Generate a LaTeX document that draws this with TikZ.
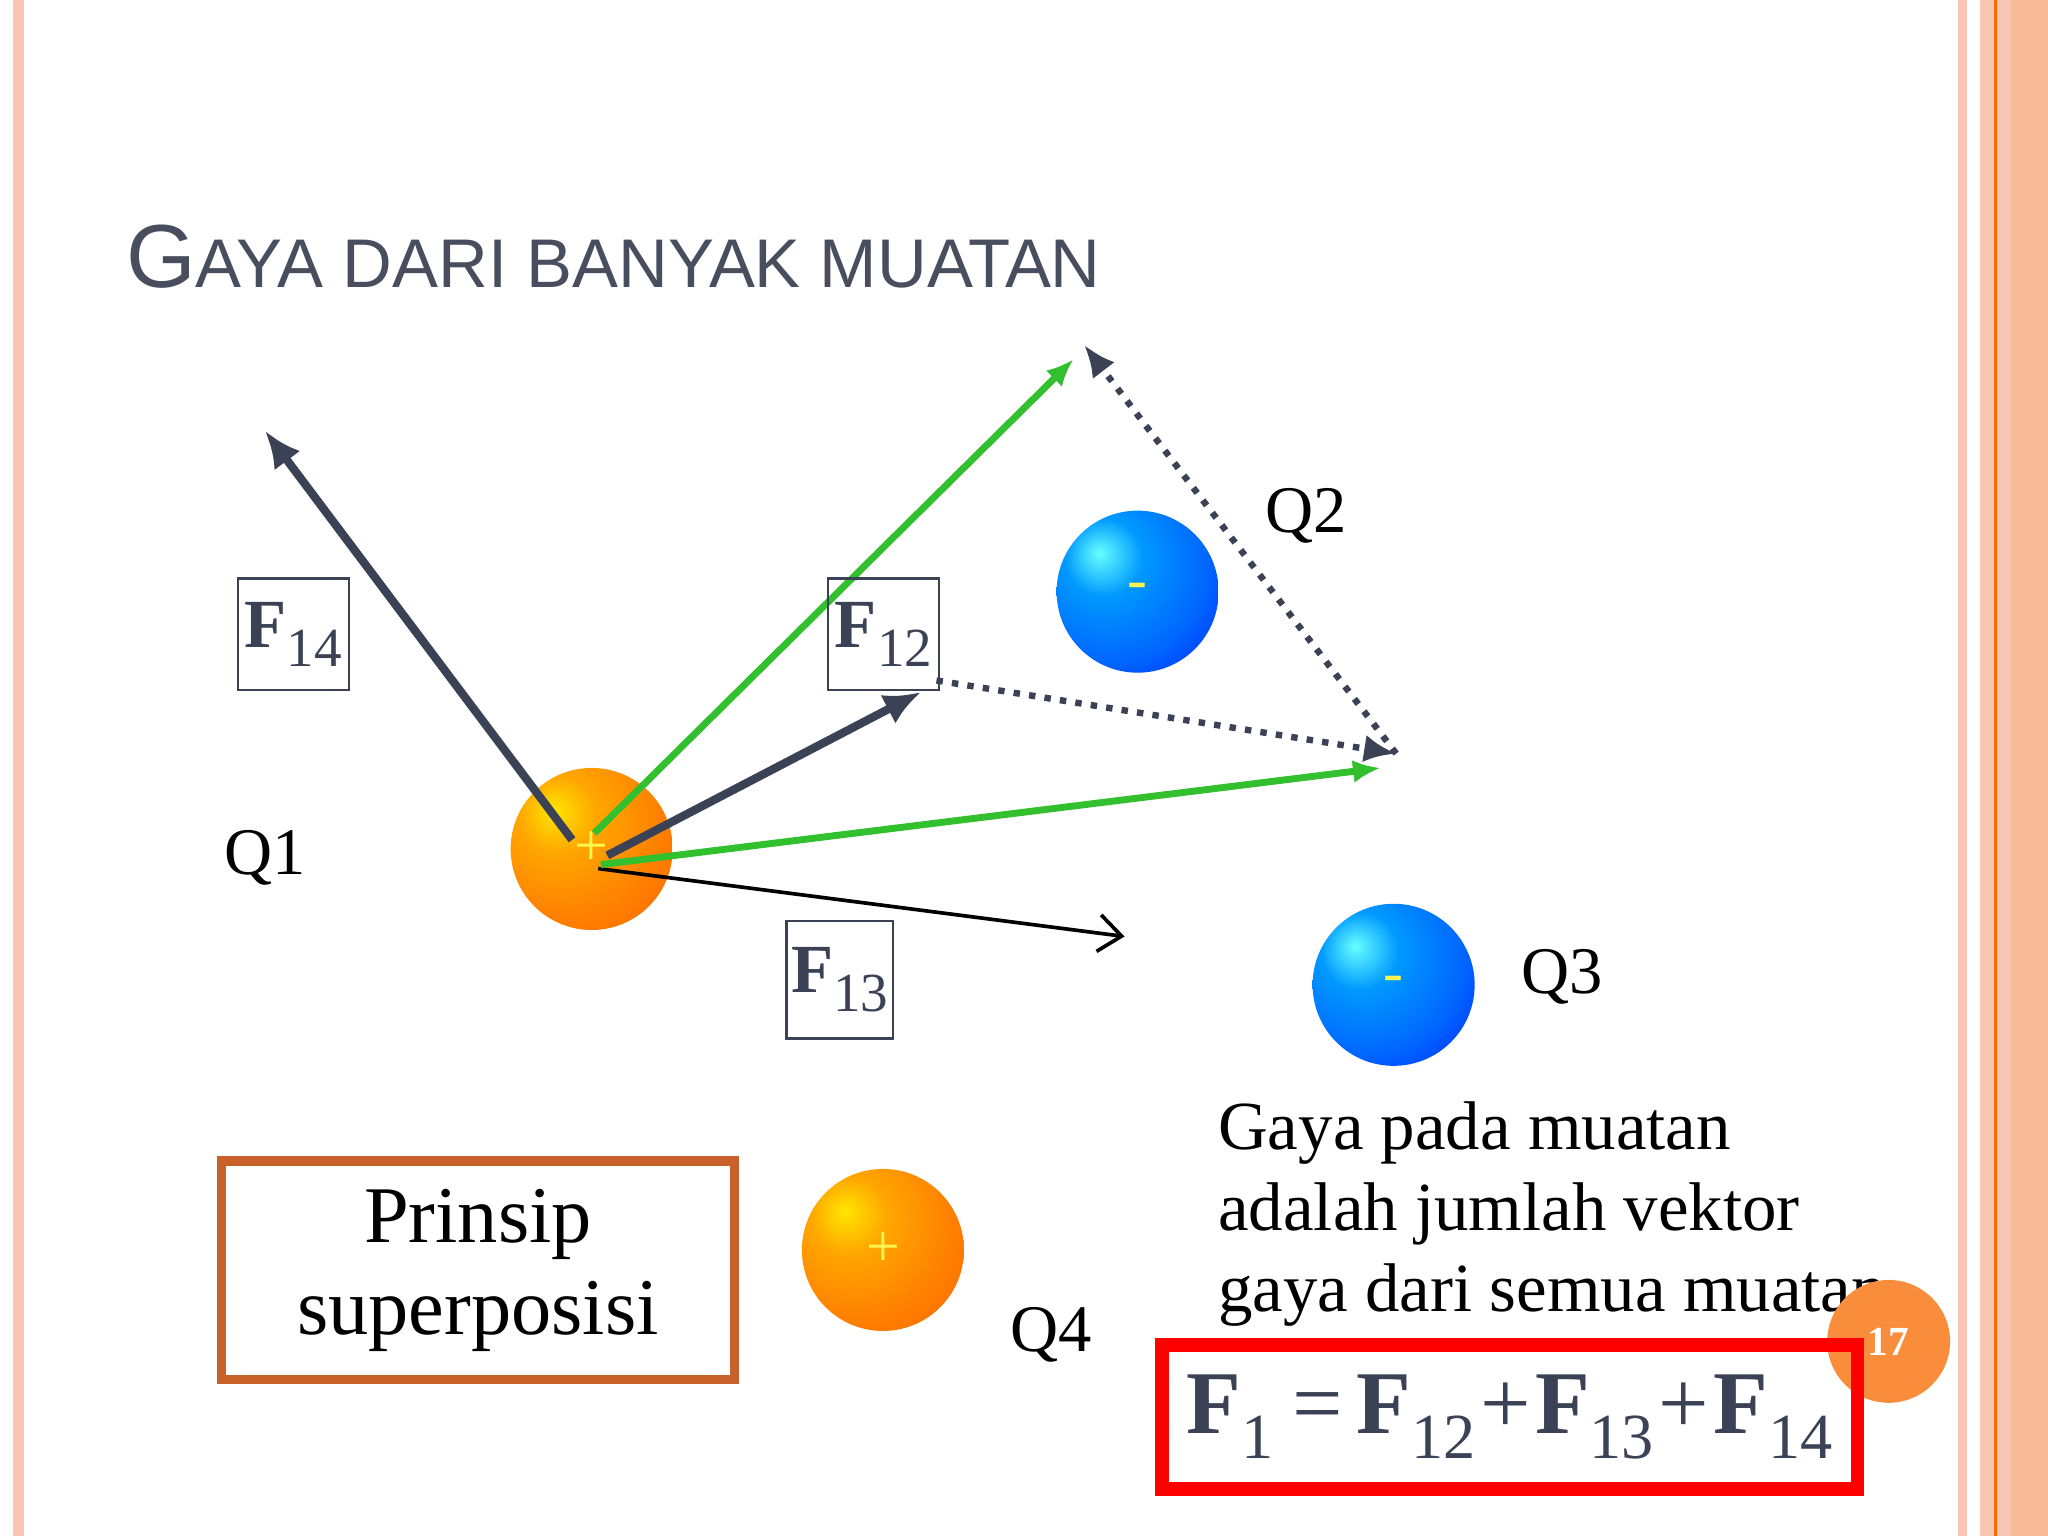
\documentclass[tikz,border=0pt]{standalone}
\usepackage{fontspec}
\setmainfont{Liberation Serif}
\newfontfamily\titlefont{Liberation Sans}
\usetikzlibrary{arrows.meta}
\definecolor{dk}{HTML}{3B4256}
\definecolor{grn}{HTML}{33C02E}
\definecolor{pk}{HTML}{F9C6B4}
\definecolor{pgor}{HTML}{F98D3C}
\definecolor{brn}{HTML}{C8622A}
\pgfdeclareradialshading{orball}{\pgfpoint{-12bp}{12bp}}{color(0bp)=(yellow!80!orange);color(12bp)=(orange!70!yellow);color(30bp)=(orange);color(45bp)=(orange!80!red);color(100bp)=(orange!80!red)}
\pgfdeclareradialshading{blball}{\pgfpoint{-12bp}{12bp}}{color(0bp)=(cyan!60!white);color(12bp)=(cyan!60!blue);color(30bp)=(blue!60!cyan);color(45bp)=(blue!85!cyan);color(100bp)=(blue!85!cyan)}
\tikzset{
 orb/.style={circle,inner sep=0pt,minimum size=1.24cm,shading=orball},
 blb/.style={circle,inner sep=0pt,minimum size=1.24cm,shading=blball},
 qlab/.style={font=\fontsize{14.5}{14.5}\selectfont},
 fbox/.style={draw=dk,line width=0.5pt,inner sep=1pt,text=dk,font=\fontsize{15}{15}\selectfont},
 darr/.style={draw=dk,line width=1.8pt,-{Latex[length=8pt,width=7pt]}},
 garr/.style={draw=grn,line width=1.5pt,-{Latex[length=6pt,width=5pt]}},
 dotarr/.style={draw=dk,line width=1.4pt,dotted,-{Latex[length=7pt,width=6pt]}},
 sgn/.style={text=yellow!70!white,font=\fontsize{13}{13}\selectfont}
}
\newcommand{\sbs}[2]{\raisebox{-0.6ex}{\fontsize{#1}{#1}\selectfont #2}}
\begin{document}
\begin{tikzpicture}[x=0.01cm,y=-0.01cm]
\useasboundingbox (0,0) rectangle (1568,1176);
\fill[white] (0,0) rectangle (1568,1176);
% border stripes
\fill[pk] (10,0) rectangle (18,1176);
\fill[pk] (1499,0) rectangle (1506,1176);
\fill[pk] (1516,0) rectangle (1568,1176);
\fill[pk!85!orange] (1540,0) rectangle (1568,1176);
\draw[orange!80!red,line width=0.6pt] (1528,0) -- (1528,1176);
% title
\node[anchor=base west,text=dk!80!gray,inner sep=0pt] (title) at (96,220)
 {\titlefont\fontsize{19.5}{19.5}\selectfont G\fontsize{15}{15}\selectfont AYA DARI BANYAK MUATAN};
% charges
\node[orb] (q1) at (453,650) {};
\node[sgn] at (q1) {+};
\node[blb] (q2) at (871,453) {};
\node[sgn] at (q2) {-};
\node[blb] (q3) at (1067,754) {};
\node[sgn] at (q3) {-};
\node[orb] (q4) at (676,957) {};
\node[sgn] at (q4) {+};
\node[qlab] (l1) at (203,657) {Q1};
\node[qlab] (l2) at (1000,395) {Q2};
\node[qlab] (l3) at (1196,748) {Q3};
\node[qlab] (l4) at (805,1022) {Q4};
% coordinates
\coordinate (a14s) at (438,643); \coordinate (a14e) at (203,330);
\coordinate (a12s) at (465,655); \coordinate (a12e) at (705,530);
\coordinate (a13s) at (458,665); \coordinate (a13e) at (861,717);
\coordinate (g1s) at (455,638); \coordinate (g1e) at (822,275);
\coordinate (g2s) at (460,662); \coordinate (g2e) at (1057,588);
\coordinate (d1s) at (717,521); \coordinate (d1e) at (1069,577);
\coordinate (d2e) at (830,264);
% vectors
\draw[garr] (g1s) -- (g1e);
\draw[darr] (a14s) -- (a14e);
\draw[darr] (a12s) -- (a12e);
\draw[black,line width=0.8pt,-{Straight Barb[length=5pt,width=8pt]}] (a13s) -- (a13e);
\draw[garr] (g2s) -- (g2e);
\draw[dotarr] (d1s) -- (d1e);
\draw[dotarr] (d1e) -- (d2e);
% labels
\node[fbox,minimum width=0.85cm,minimum height=0.85cm] (f14) at (224.5,485.5) {\textbf{F}\sbs{12}{14}};
\node[fbox,minimum width=0.85cm,minimum height=0.85cm] (f12) at (676.5,485.5) {\textbf{F}\sbs{12}{12}};
\node[fbox,minimum width=0.8cm,minimum height=0.9cm] (f13) at (643,750) {\textbf{F}\sbs{12}{13}};
% principle box
\node[draw=brn,line width=2pt,minimum width=3.92cm,minimum height=1.67cm,align=center,font=\fontsize{17.5}{20}\selectfont] (pr) at (366,972.5) {Prinsip\\superposisi};
% text
\node[anchor=north west,align=left,inner sep=0pt,font=\fontsize{15}{17.6}\selectfont] (txt) at (932,843) {Gaya pada muatan\\adalah jumlah vektor\\gaya dari semua muatan};
% page number
\node[circle,fill=pgor,minimum size=0.94cm,inner sep=0pt] (pg) at (1446,1027) {};
% equation
\node[draw=red,line width=3pt,minimum width=5.32cm,minimum height=1.1cm,inner sep=0pt,text=dk,font=\fontsize{19.5}{19.5}\selectfont] (eq) at (1156,1085)
 {\textbf{F}\sbs{14}{1}\hspace{4pt}=\hspace{3pt}\textbf{F}\sbs{14}{12}\hspace{1pt}+\hspace{1pt}\textbf{F}\sbs{14}{13}\hspace{1pt}+\hspace{1pt}\textbf{F}\sbs{14}{14}};
\node[text=white,font=\bfseries\fontsize{9}{9}\selectfont] (pgn) at (pg) {17};
\end{tikzpicture}
\end{document}
